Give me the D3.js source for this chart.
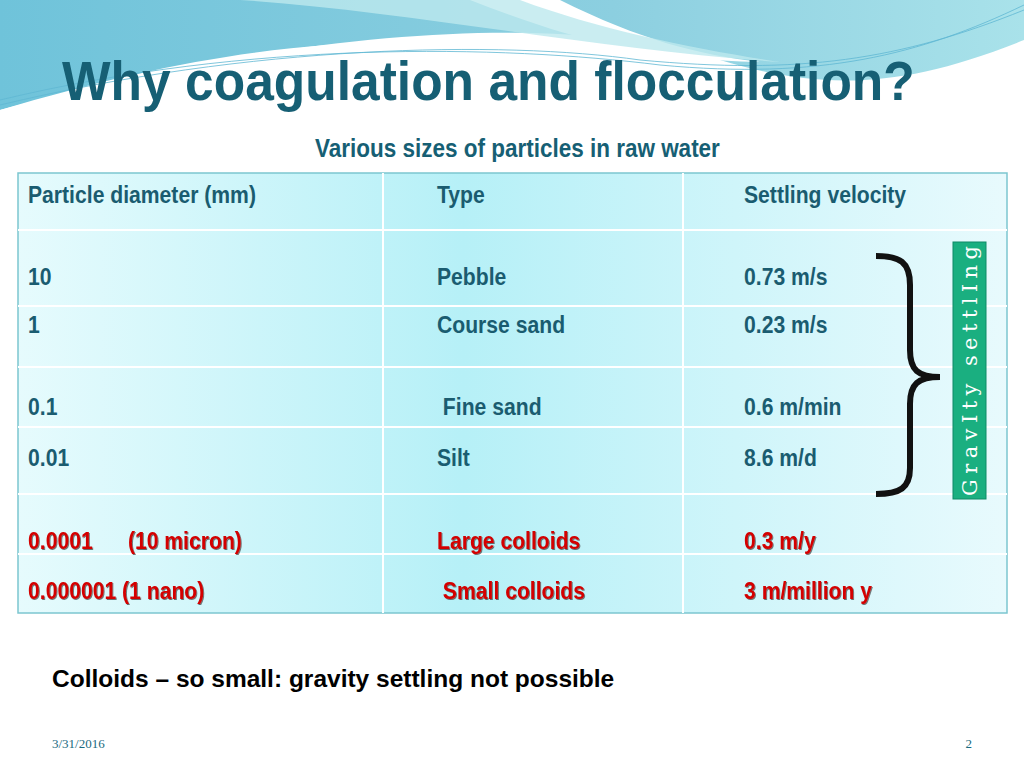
<!DOCTYPE html>
<html><head><meta charset="utf-8">
<script src="https://cdn.jsdelivr.net/npm/d3@7"></script>
<style>body{margin:0;background:#fff}</style>
</head><body>
<svg id="s" width="1024" height="768"></svg>
<script>
const headers = ['Particle diameter (mm)', 'Type', 'Settling velocity']
const diameters = ['10', '1', '0.1', '0.01', '0.0001      (10 micron)', '0.000001 (1 nano)']
const types = ['Pebble', 'Course sand', ' Fine sand', 'Silt', 'Large colloids', ' Small colloids']
const velocities = ['0.73 m/s', '0.23 m/s', '0.6 m/min', '8.6 m/d', '0.3 m/y', '3 m/million y']
const colloid = [false, false, false, false, true, true]
const rowBase = [285, 333, 415, 466, 549, 599]   // text baselines
const rowLines = [173, 230, 306, 367, 427, 494, 554, 613]
const colLines = [18, 383, 683, 1007]
const colText = [28, 437, 744]

const svg = d3.select('#s')
const defs = svg.append('defs')
const g1 = defs.append('linearGradient').attr('id', 'tbl').attr('x1', 0).attr('x2', 1)
g1.append('stop').attr('offset', 0).attr('stop-color', '#e6fbfd')
g1.append('stop').attr('offset', 0.45).attr('stop-color', '#b6f0f7')
g1.append('stop').attr('offset', 1).attr('stop-color', '#e8fafd')
const g2 = defs.append('linearGradient').attr('id', 'wave').attr('x1', 0).attr('x2', 1)
g2.append('stop').attr('offset', 0).attr('stop-color', '#6fc3da')
g2.append('stop').attr('offset', 0.6).attr('stop-color', '#8ccfe0')
g2.append('stop').attr('offset', 1).attr('stop-color', '#a9e2ea')
const sh = defs.append('filter').attr('id', 'sh')
sh.append('feDropShadow').attr('dx', 1).attr('dy', 1).attr('stdDeviation', 0.6).attr('flood-color', '#333').attr('flood-opacity', 0.7)

// top waves
svg.append('path').attr('fill', 'url(#wave)')
  .attr('d', 'M0,0 L1024,0 L1024,40 C900,90 820,90 720,60 C560,10 300,30 0,110 Z')
svg.append('path').attr('fill', '#fff')
  .attr('d', 'M470,0 L560,0 C640,40 700,55 760,62 C640,60 560,35 470,0 Z')
svg.append('path').attr('fill', '#bde8ee').attr('opacity', 0.8)
  .attr('d', 'M240,0 L520,0 C600,30 700,50 780,62 C600,50 400,10 240,0 Z')
svg.append('path').attr('fill', '#fff')
  .attr('d', 'M0,110 C200,50 360,30 520,50 C300,50 150,90 0,140 Z')
svg.append('path').attr('fill', 'none').attr('stroke', '#5fb7d3').attr('stroke-width', 0.8)
  .attr('d', 'M0,105 C250,45 500,40 640,60 C800,75 900,60 1024,10')
svg.append('path').attr('fill', 'none').attr('stroke', '#5fb7d3').attr('stroke-width', 0.8)
  .attr('d', 'M0,100 C250,40 500,45 660,65 C820,80 920,55 1024,5')

const font = '"Liberation Sans", Arial, sans-serif'
function cond(sel, x, y, sx) {
  return sel.attr('transform', `translate(${x},${y}) scale(${sx},1)`)
}
cond(svg.append('text'), 62, 100, 0.92).text('Why coagulation and flocculation?')
  .attr('font-family', font).attr('font-weight', 'bold').attr('font-size', 56).attr('fill', '#165f74')
cond(svg.append('text'), 315, 157, 0.9).text('Various sizes of particles in raw water')
  .attr('font-family', font).attr('font-weight', 'bold').attr('font-size', 25).attr('fill', '#165f74')

// table
svg.append('rect').attr('x', 18).attr('y', 173).attr('width', 989).attr('height', 440)
  .attr('fill', 'url(#tbl)').attr('stroke', '#7cc6d0').attr('stroke-width', 1.5)
svg.selectAll('.hl').data(rowLines.slice(1, -1)).join('line')
  .attr('x1', 18).attr('x2', 1007).attr('y1', d => d).attr('y2', d => d)
  .attr('stroke', '#fff').attr('stroke-width', 2)
svg.selectAll('.vl').data(colLines.slice(1, -1)).join('line')
  .attr('x1', d => d).attr('x2', d => d).attr('y1', 173).attr('y2', 613)
  .attr('stroke', '#fff').attr('stroke-width', 2)

const cellFont = (sel, red) => sel.attr('font-family', font).attr('font-weight', 'bold')
  .attr('font-size', 23).attr('fill', red ? '#d40000' : '#1a5c70')
  .attr('filter', red ? 'url(#sh)' : null).style('white-space', 'pre')
headers.forEach((h, i) => cellFont(cond(svg.append('text'), colText[i], 203, 0.92).text(h), false))
const cols = [diameters, types, velocities]
cols.forEach((arr, c) => arr.forEach((t, r) => {
  cellFont(cond(svg.append('text'), colText[c], rowBase[r], 0.92).text(t), colloid[r])
}))

// brace
svg.append('path').attr('fill', 'none').attr('stroke', '#111').attr('stroke-width', 6)
  .attr('d', 'M876,256 C900,256 910,262 910,285 L910,350 C910,370 918,377 940,377 C918,377 910,384 910,404 L910,468 C910,488 900,494 876,494')

// gravity settling label
svg.append('rect').attr('x', 953).attr('y', 242).attr('width', 33).attr('height', 257)
  .attr('fill', '#1aaf80').attr('stroke', '#0f8a66')
svg.append('text').attr('transform', 'translate(977,496) rotate(-90)')
  .attr('font-family', '"DejaVu Serif", serif').attr('font-size', 21).attr('fill', '#fff')
  .attr('textLength', 250).attr('lengthAdjust', 'spacing').text('GravIty settlIng')

svg.append('text').attr('x', 52).attr('y', 687).text('Colloids – so small: gravity settling not possible')
  .attr('font-family', font).attr('font-weight', 'bold').attr('font-size', 24.5).attr('fill', '#000')
svg.append('text').attr('x', 52).attr('y', 748).text('3/31/2016')
  .attr('font-family', '"Liberation Serif", serif').attr('font-size', 13).attr('fill', '#1a6a80')
svg.append('text').attr('x', 972).attr('y', 748).attr('text-anchor', 'end').text('2')
  .attr('font-family', '"Liberation Serif", serif').attr('font-size', 13).attr('fill', '#1a6a80')
</script>
</body></html>
